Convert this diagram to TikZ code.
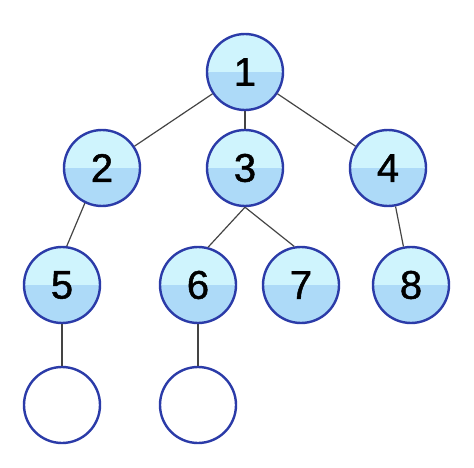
\documentclass[tikz,border=0pt]{standalone}
\usepackage{fontspec}
\setmainfont{Liberation Sans}
\newfontfamily\digitfont[FakeBold=1.2]{Liberation Sans}
\usepackage{xcolor}
\definecolor{topblue}{HTML}{CFF4FD}
\definecolor{lowblue}{HTML}{ADDAF8}
\definecolor{rimblue}{HTML}{2B3BA8}
\definecolor{edgegray}{HTML}{444444}

\begin{document}
\begin{tikzpicture}[x=1pt, y=-1pt,
  treenode/.style={circle, draw=rimblue, line width=2.4pt, minimum size=76pt, inner sep=0pt,
    font=\digitfont\fontsize{40}{44}\selectfont,
    path picture={
      \fill[topblue] (path picture bounding box.west) rectangle (path picture bounding box.north east);
      \fill[lowblue] (path picture bounding box.south west) rectangle (path picture bounding box.east);
    }},
  emptynode/.style={circle, draw=rimblue, line width=2.4pt, minimum size=76pt, fill=white},
  link/.style={draw=edgegray, line width=1.2pt}]
  \useasboundingbox (0,0) rectangle (474,468);
  % levels of the tree
  \node[treenode] (n1) at (245, 72) {1};
  \node[treenode] (n2) at (102, 168) {2};
  \node[treenode] (n3) at (245, 168) {3};
  \node[treenode] (n4) at (388, 168) {4};
  \node[treenode] (n5) at (62, 285) {5};
  \node[treenode] (n6) at (198, 285) {6};
  \node[treenode] (n7) at (301, 285) {7};
  \node[treenode] (n8) at (411, 285) {8};
  \node[emptynode] (e5) at (62, 405) {};
  \node[emptynode] (e6) at (198, 405) {};

  % edges
  \draw[link] (n1) -- (n2);
  \draw[link] (n1) -- (n3);
  \draw[link] (n1) -- (n4);
  \draw[link] (n2.244) -- (n5.83);
  \draw[link] (n3.south) -- (n6.75);
  \draw[link] (n3.south) -- (n7.100);
  \draw[link] (n4) -- (n8);
  \draw[link] (n5) -- (e5);
  \draw[link] (n6) -- (e6);
\end{tikzpicture}
\end{document}
